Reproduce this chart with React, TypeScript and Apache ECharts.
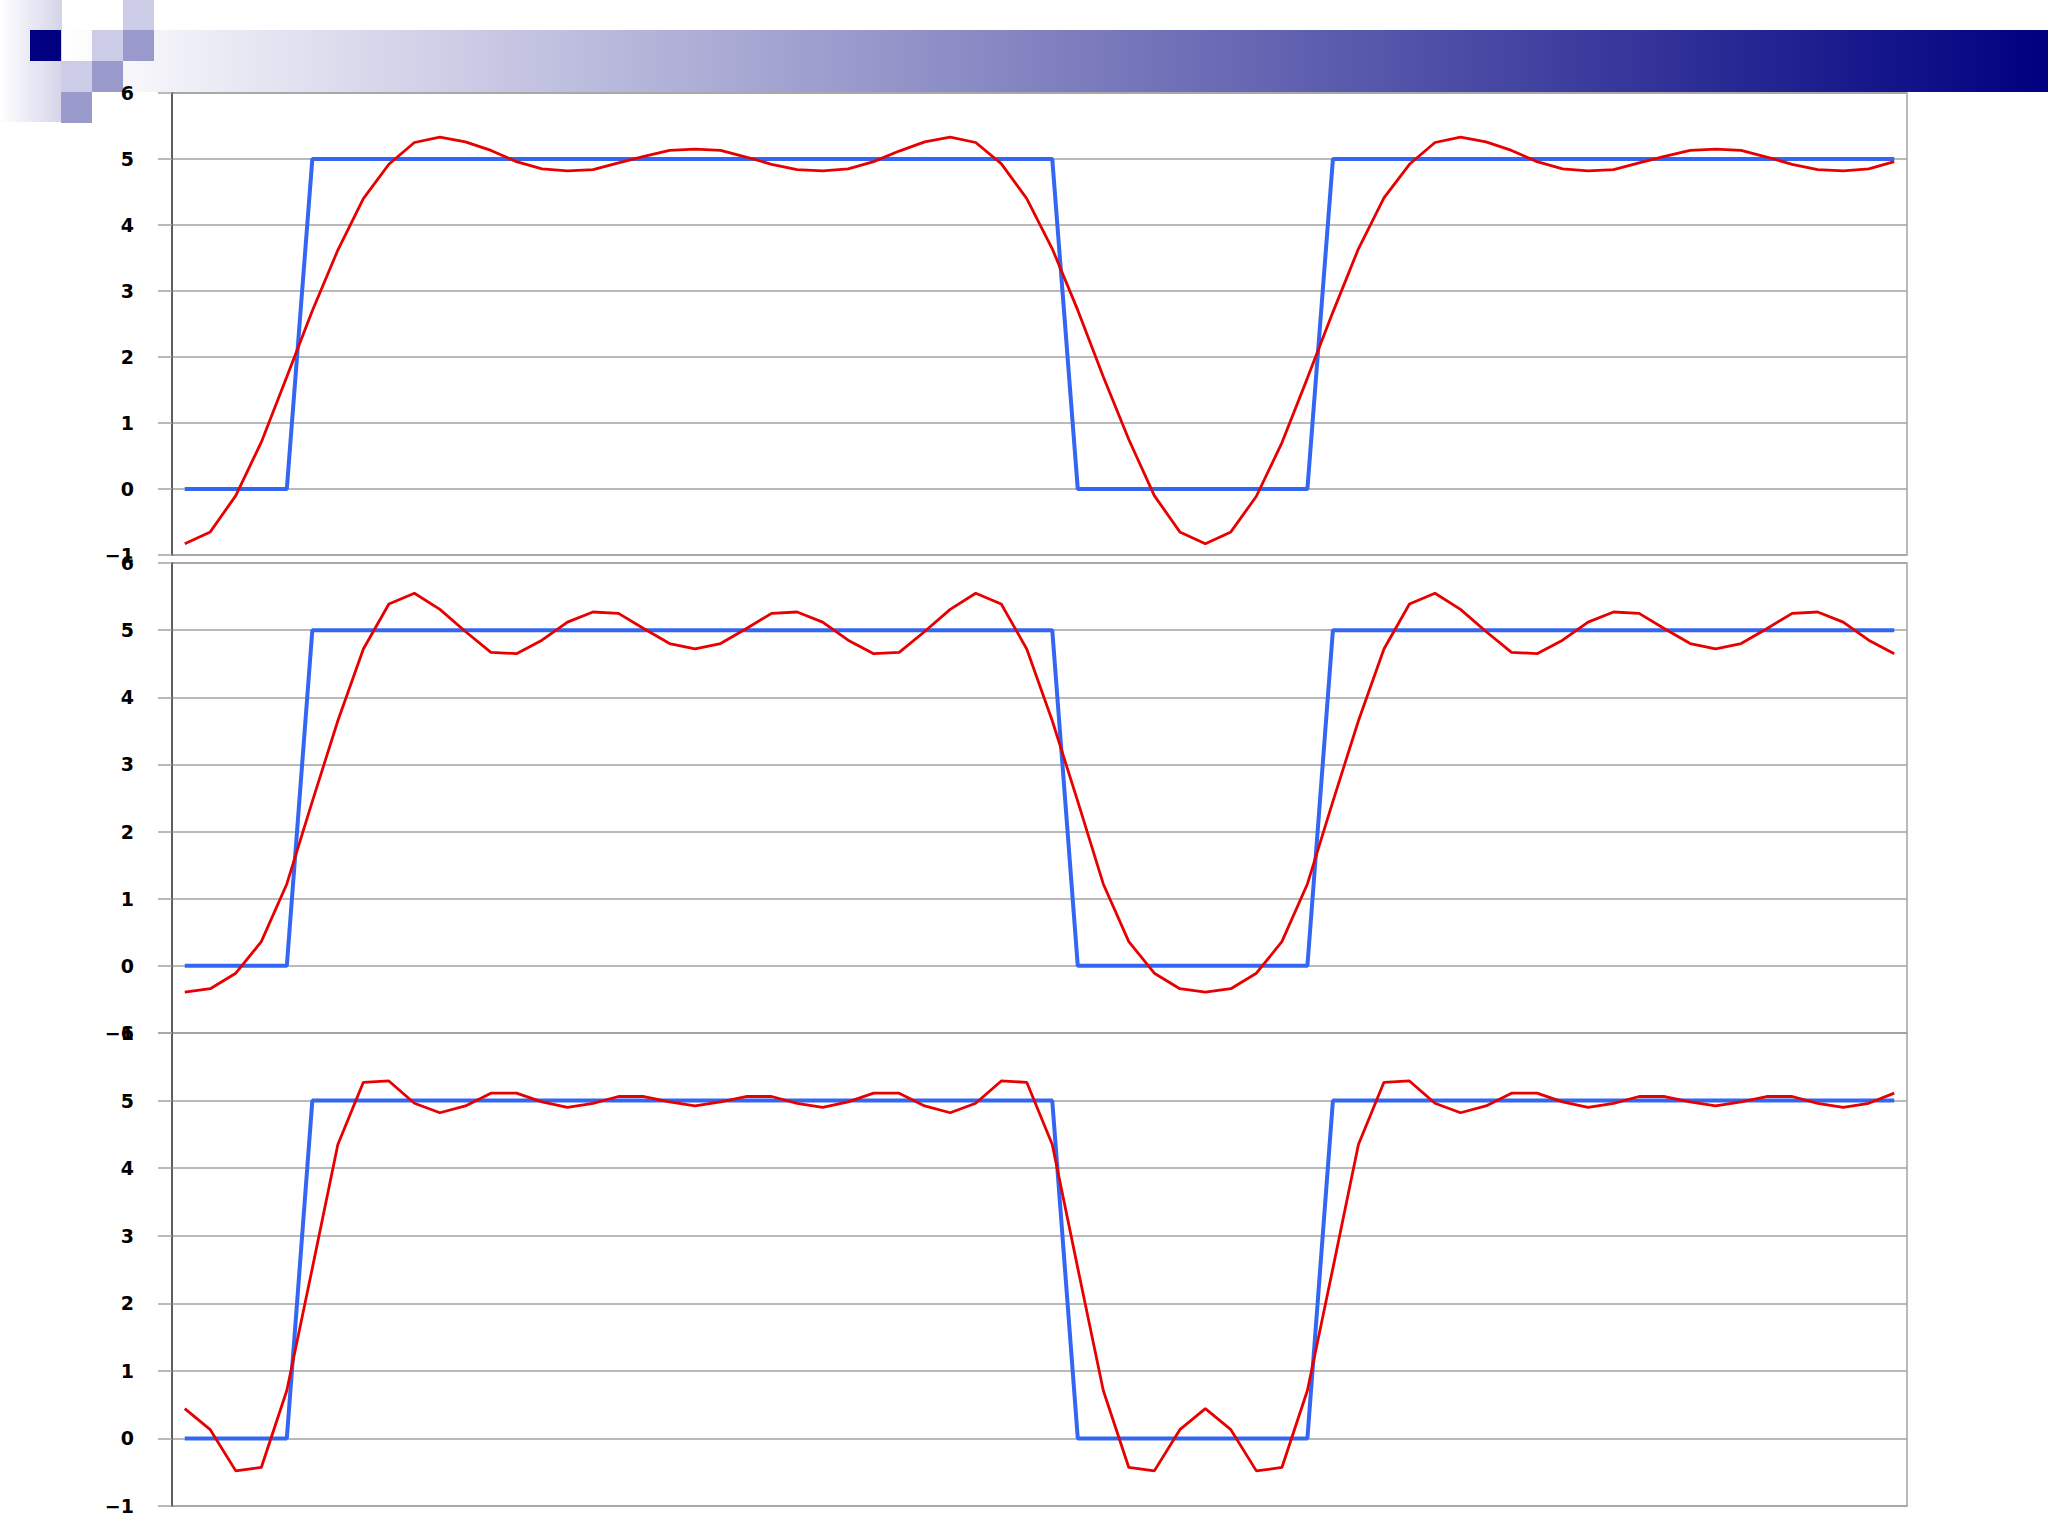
import React, { useEffect, useRef } from "react";
import * as echarts from "echarts";

// sample index (category axis, labels hidden)
const categories = [
  "1","2","3","4","5","6","7","8","9","10","11","12","13","14","15","16","17","18","19","20",
  "21","22","23","24","25","26","27","28","29","30","31","32","33","34","35","36","37","38","39","40",
  "41","42","43","44","45","46","47","48","49","50","51","52","53","54","55","56","57","58","59","60",
  "61","62","63","64","65","66","67","68",
];

const yTickLabels = ["−1", "0", "1", "2", "3", "4", "5", "6"];

// ideal square wave (blue), the same in the three panels
const squareWave = [
  0, 0, 0, 0, 0,
  5, 5, 5, 5, 5, 5, 5, 5, 5, 5, 5, 5, 5, 5, 5, 5, 5, 5, 5, 5, 5, 5, 5, 5, 5, 5, 5, 5, 5, 5,
  0, 0, 0, 0, 0, 0, 0, 0, 0, 0,
  5, 5, 5, 5, 5, 5, 5, 5, 5, 5, 5, 5, 5, 5, 5, 5, 5, 5, 5, 5, 5, 5, 5,
];

// approximations (red)
const approxTop = [
  -0.83, -0.65, -0.10, 0.71, 1.70, 2.70, 3.62, 4.40, 4.92, 5.25,
  5.33, 5.26, 5.13, 4.96, 4.85, 4.82, 4.84, 4.94, 5.04, 5.13,
  5.15, 5.13, 5.03, 4.92, 4.84, 4.82, 4.85, 4.96, 5.12, 5.26,
  5.33, 5.25, 4.93, 4.40, 3.64, 2.71, 1.70, 0.75, -0.10, -0.65,
  -0.83, -0.65, -0.11, 0.70, 1.68, 2.68, 3.64, 4.41, 4.92, 5.25,
  5.33, 5.26, 5.13, 4.96, 4.85, 4.82, 4.84, 4.94, 5.04, 5.13,
  5.15, 5.13, 5.03, 4.92, 4.84, 4.82, 4.85, 4.96,
];

const approxMiddle = [
  -0.39, -0.34, -0.11, 0.36, 1.22, 2.45, 3.65, 4.72, 5.39, 5.55,
  5.31, 4.98, 4.67, 4.65, 4.85, 5.12, 5.27, 5.25, 5.02, 4.80,
  4.72, 4.80, 5.02, 5.25, 5.27, 5.12, 4.85, 4.65, 4.67, 4.98,
  5.31, 5.55, 5.39, 4.72, 3.65, 2.45, 1.22, 0.36, -0.11, -0.34,
  -0.39, -0.34, -0.11, 0.36, 1.22, 2.45, 3.65, 4.72, 5.39, 5.55,
  5.31, 4.98, 4.67, 4.65, 4.85, 5.12, 5.27, 5.25, 5.02, 4.80,
  4.72, 4.80, 5.02, 5.25, 5.27, 5.12, 4.85, 4.65,
];

const approxBottom = [
  0.44, 0.13, -0.48, -0.43, 0.71, 2.52, 4.35, 5.27, 5.29, 4.96,
  4.82, 4.92, 5.11, 5.11, 4.98, 4.90, 4.96, 5.06, 5.06, 4.98,
  4.92, 4.98, 5.06, 5.06, 4.96, 4.90, 4.98, 5.11, 5.11, 4.92,
  4.82, 4.96, 5.29, 5.27, 4.35, 2.52, 0.71, -0.43, -0.48, 0.13,
  0.44, 0.13, -0.48, -0.43, 0.71, 2.52, 4.35, 5.27, 5.29, 4.96,
  4.82, 4.92, 5.11, 5.11, 4.98, 4.90, 4.96, 5.06, 5.06, 4.98,
  4.92, 4.98, 5.06, 5.06, 4.96, 4.90, 4.96, 5.11,
];

const panels = [squareWave, squareWave, squareWave];
const approximations = [approxTop, approxMiddle, approxBottom];

const BLUE = "#3366f2";
const RED = "#e80000";
const GRID_GRAY = "#a3a3a3";

export default function App() {
  const ref = useRef<HTMLDivElement>(null);

  useEffect(() => {
    if (!ref.current) return;
    const chart = echarts.init(ref.current, null, { renderer: "svg" });

    const grids = [
      { left: 172, right: 141, top: 93, height: 462 },
      { left: 172, right: 141, top: 563, height: 470 },
      { left: 172, right: 141, top: 1033, height: 473 },
    ].map((g) => ({
      ...g,
      show: true,
      borderColor: GRID_GRAY,
      borderWidth: 1.5,
      backgroundColor: "transparent",
      containLabel: false,
    }));

    const xAxes = grids.map((_, i) => ({
      type: "category" as const,
      gridIndex: i,
      data: categories,
      boundaryGap: true,
      axisLine: { show: false },
      axisTick: { show: false },
      axisLabel: { show: false },
      splitLine: { show: false },
    }));

    const yAxes = grids.map((_, i) => ({
      type: "value" as const,
      gridIndex: i,
      min: -1,
      max: 6,
      interval: 1,
      axisLine: { show: true, lineStyle: { color: "#5e5e5e", width: 2 } },
      axisTick: {
        show: true,
        inside: false,
        length: 14,
        lineStyle: { color: GRID_GRAY, width: 1.5 },
      },
      axisLabel: {
        show: true,
        margin: 38,
        color: "#000",
        fontSize: 19,
        fontWeight: "bold" as const,
        fontFamily: "DejaVu Sans",
        formatter: (v: number) => yTickLabels[Math.round(v) + 1],
      },
      splitLine: { show: true, lineStyle: { color: GRID_GRAY, width: 1.5 } },
    }));

    const series: any[] = [];
    panels.forEach((wave, i) => {
      series.push({
        type: "line",
        xAxisIndex: i,
        yAxisIndex: i,
        data: wave,
        showSymbol: false,
        symbol: "none",
        lineStyle: { color: BLUE, width: 4 },
        z: 3,
      });
      series.push({
        type: "line",
        xAxisIndex: i,
        yAxisIndex: i,
        data: approximations[i],
        showSymbol: false,
        symbol: "none",
        lineStyle: { color: RED, width: 2.8 },
        z: 4,
      });
    });

    const LIGHT = "#ccccE6";
    const MEDIUM = "#9999cc";
    const NAVY = "#000080";
    const sq = (x: number, y: number, fill: string) => ({
      type: "rect",
      shape: { x, y, width: 31, height: 31 },
      style: { fill },
      z: -1,
      silent: true,
    });

    chart.setOption({
      animation: false,
      backgroundColor: "#ffffff",
      graphic: [
        {
          type: "rect",
          shape: { x: 0, y: 0, width: 62, height: 122 },
          style: {
            fill: new echarts.graphic.LinearGradient(0, 0, 1, 0, [
              { offset: 0, color: "#ffffff" },
              { offset: 1, color: "#d4d4ea" },
            ]),
          },
          z: -2,
          silent: true,
        },
        {
          type: "rect",
          shape: { x: 62, y: 30, width: 1986, height: 62 },
          style: {
            fill: new echarts.graphic.LinearGradient(0, 0, 1, 0, [
              { offset: 0, color: "#ffffff" },
              { offset: 1, color: NAVY },
            ]),
          },
          z: -2,
          silent: true,
        },
        sq(30, 30, NAVY),
        sq(123, 0, LIGHT),
        sq(92, 30, LIGHT),
        sq(123, 30, MEDIUM),
        sq(61, 61, LIGHT),
        sq(92, 61, MEDIUM),
        sq(61, 92, MEDIUM),
      ],
      grid: grids,
      xAxis: xAxes,
      yAxis: yAxes,
      series,
    });

    return () => chart.dispose();
  }, []);

  return (
    <div
      ref={ref}
      style={{ position: "fixed", left: 0, top: 0, width: 2048, height: 1536, background: "#fff" }}
    />
  );
}
